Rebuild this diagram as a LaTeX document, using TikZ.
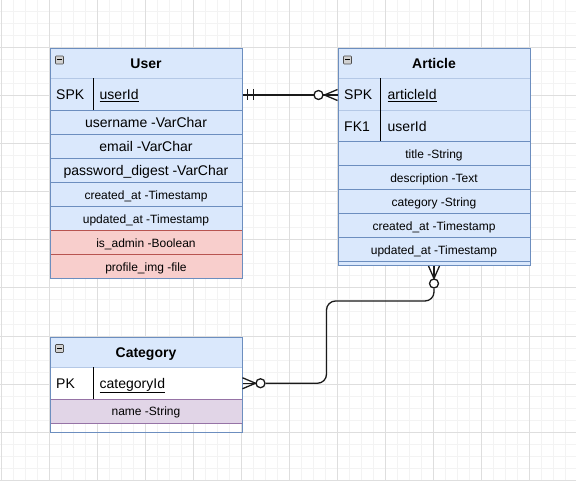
\documentclass[tikz,border=0pt]{standalone}
\usepackage{fontspec}
\setmainfont{Liberation Sans}
\usetikzlibrary{calc}
\definecolor{bfill}{HTML}{DAE8FC}
\definecolor{bstroke}{HTML}{6C8EBF}
\definecolor{keyline}{HTML}{B4C8E6}
\definecolor{rfill}{HTML}{F8CECC}
\definecolor{rstroke}{HTML}{B85450}
\definecolor{pfill}{HTML}{E1D5E7}
\definecolor{pstroke}{HTML}{9673A6}
\definecolor{gminor}{HTML}{F3F3F3}
\definecolor{gmajor}{HTML}{DEDEDE}
\definecolor{lnk}{HTML}{1A1A1A}
\begin{document}
\begin{tikzpicture}[x=1pt,y=-1pt,
  minorgrid/.style={draw=gminor,line width=1},
  majorgrid/.style={draw=gmajor,line width=1},
  hdr/.style={rectangle,fill=bfill,draw=keyline,line width=1,minimum width=192,minimum height=30,inner sep=0,text height=13,text depth=3,font=\fontsize{14}{16}\selectfont\bfseries},
  keyrow/.style={rectangle,fill=bfill,draw=keyline,line width=1,minimum width=192,inner sep=0},
  keytxt/.style={inner sep=0,anchor=west,text height=13,text depth=3,font=\fontsize{14}{16}\selectfont},
  attr/.style={rectangle,fill=bfill,draw=bstroke,line width=1,minimum width=192,minimum height=24,inner sep=0,text height=13,text depth=3,font=\fontsize{14}{16}\selectfont},
  attrsm/.style={attr,text height=11,text depth=2.5,font=\fontsize{12}{14}\selectfont},
  redrow/.style={attrsm,fill=rfill,draw=rstroke},
  purprow/.style={attrsm,fill=pfill,draw=pstroke},
  tblbox/.style={rectangle,draw=bstroke,line width=1,minimum width=192,inner sep=0},
  divider/.style={draw=black,line width=1},
  minusicon/.style={rectangle,draw=black!70,fill=black!18,line width=0.6,minimum width=8,minimum height=8,inner sep=0,rounded corners=0.8},
  conn/.style={draw=lnk,line width=1.3},
  circ/.style={circle,draw=lnk,fill=white,line width=1.3,minimum size=9,inner sep=0}]
\useasboundingbox (0,0) rectangle (576,481);
\fill[white] (0,0) rectangle (576,481);
% grid
\foreach \i in {0,...,47} \draw[minorgrid] ({1+12*\i},0) -- ({1+12*\i},481);
\foreach \j in {0,...,40} \draw[minorgrid] (0,{12*\j}) -- (576,{12*\j});
\foreach \i in {0,...,11} \draw[majorgrid] ({1+48*\i},0) -- ({1+48*\i},481);
\foreach \j in {0,...,10} \draw[majorgrid] (0,{48*\j}) -- (576,{48*\j});

% ---------- User ----------
\node[hdr] (uHead) at (146,64) {User};
\node[minusicon] (uMin) at (59.5,60) {};
\draw[line width=1] ($(uMin.west)+(2,0)$) -- ($(uMin.east)+(-2,0)$);
\node[keyrow,minimum height=32] (uSPK) at (146,95) {};
\draw[divider] ($(uSPK.north west)+(43.5,0)$) -- ($(uSPK.south west)+(43.5,0)$);
\node[keytxt] (uSPKa) at ($(uSPK.west)+(6.5,0)$) {SPK};
\node[keytxt] (uSPKb) at ($(uSPK.west)+(50,0)$) {\underline{userId}};
\node[attr] (uName) at (146,123) {username -VarChar};
\node[attr] (uMail) at (146,147) {email -VarChar};
\node[attr] (uPass) at (146,171) {password\_digest -VarChar};
\node[attrsm] (uCrea) at (146,195) {created\_at -Timestamp};
\node[attrsm] (uUpd) at (146,219) {updated\_at -Timestamp};
\node[redrow] (uAdm) at (146,243) {is\_admin -Boolean};
\node[redrow] (uImg) at (146,267) {profile\_img -file};
\node[tblbox,minimum height=230] (uTbl) at (146,164) {};

% ---------- Article ----------
\fill[bfill] (338,262) rectangle (530,265.5);
\node[hdr] (aHead) at (434,64) {Article};
\node[minusicon] (aMin) at (347.5,60) {};
\draw[line width=1] ($(aMin.west)+(2,0)$) -- ($(aMin.east)+(-2,0)$);
\node[keyrow,minimum height=32] (aSPK) at (434,95) {};
\draw[divider] ($(aSPK.north west)+(43,0)$) -- ($(aSPK.south west)+(43,0)$);
\node[keytxt] (aSPKa) at ($(aSPK.west)+(6.5,0)$) {SPK};
\node[keytxt] (aSPKb) at ($(aSPK.west)+(50,0)$) {\underline{articleId}};
\node[keyrow,minimum height=31] (aFK) at (434,126.5) {};
\draw[divider] ($(aFK.north west)+(43,0)$) -- ($(aFK.south west)+(43,0)$);
\node[keytxt] (aFKa) at ($(aFK.west)+(6.5,0)$) {FK1};
\node[keytxt] (aFKb) at ($(aFK.west)+(50,0)$) {userId};
\node[attrsm] (aTit) at (434,154) {title -String};
\node[attrsm] (aDes) at (434,178) {description -Text};
\node[attrsm] (aCat) at (434,202) {category -String};
\node[attrsm] (aCrea) at (434,226) {created\_at -Timestamp};
\node[attrsm] (aUpd) at (434,250) {updated\_at -Timestamp};
\node[tblbox,minimum height=216.5] (aTbl) at (434,157.25) {};

% ---------- Category ----------
\node[hdr] (cHead) at (146,352.5) {Category};
\node[minusicon] (cMin) at (59.5,348.5) {};
\draw[line width=1] ($(cMin.west)+(2,0)$) -- ($(cMin.east)+(-2,0)$);
\node[keyrow,fill=white,draw=none,minimum height=31.5] (cPK) at (146,383.25) {};
\draw[divider] ($(cPK.north west)+(43.5,0)$) -- ($(cPK.south west)+(43.5,0)$);
\node[keytxt] (cPKa) at ($(cPK.west)+(6.5,0)$) {PK};
\node[keytxt] (cPKb) at ($(cPK.west)+(50,0)$) {\underline{categoryId}};
\node[purprow,minimum height=24.5] (cNam) at (146,411.25) {name -String};
\node[tblbox,minimum height=95] (cTbl) at (146,385) {};

% ---------- connector User -- Article ----------
\draw[conn] (uSPK.east) -- (aSPK.west);
\draw[conn] ($(uSPK.east)+(5,-5.5)$) -- ($(uSPK.east)+(5,5.5)$);
\draw[conn] ($(uSPK.east)+(11,-5.5)$) -- ($(uSPK.east)+(11,5.5)$);
\draw[conn] ($(aSPK.west)+(0,-5.5)$) -- ($(aSPK.west)+(-13,0)$) -- ($(aSPK.west)+(0,5.5)$);
\node[circ] (c1) at ($(aSPK.west)+(-19,0)$) {};

% ---------- connector Article -- Category ----------
\node[circ] (c2) at ($(aTbl.south)+(0,17.5)$) {};
\node[circ] (c3) at ($(cPK.east)+(18,0)$) {};
\coordinate (bend) at (326.5,301);
\draw[conn,rounded corners=9] (c2.south) |- (bend) |- (c3.east);
\draw[conn] ($(aTbl.south)+(-5.5,0)$) -- ($(aTbl.south)+(0,12.5)$) -- ($(aTbl.south)+(5.5,0)$);
\draw[conn] (aTbl.south) -- (c2.north);
\draw[conn] ($(cPK.east)+(0,-5.5)$) -- ($(cPK.east)+(13,0)$) -- ($(cPK.east)+(0,5.5)$);
\draw[conn] (cPK.east) -- (c3.west);
\end{tikzpicture}
\end{document}
